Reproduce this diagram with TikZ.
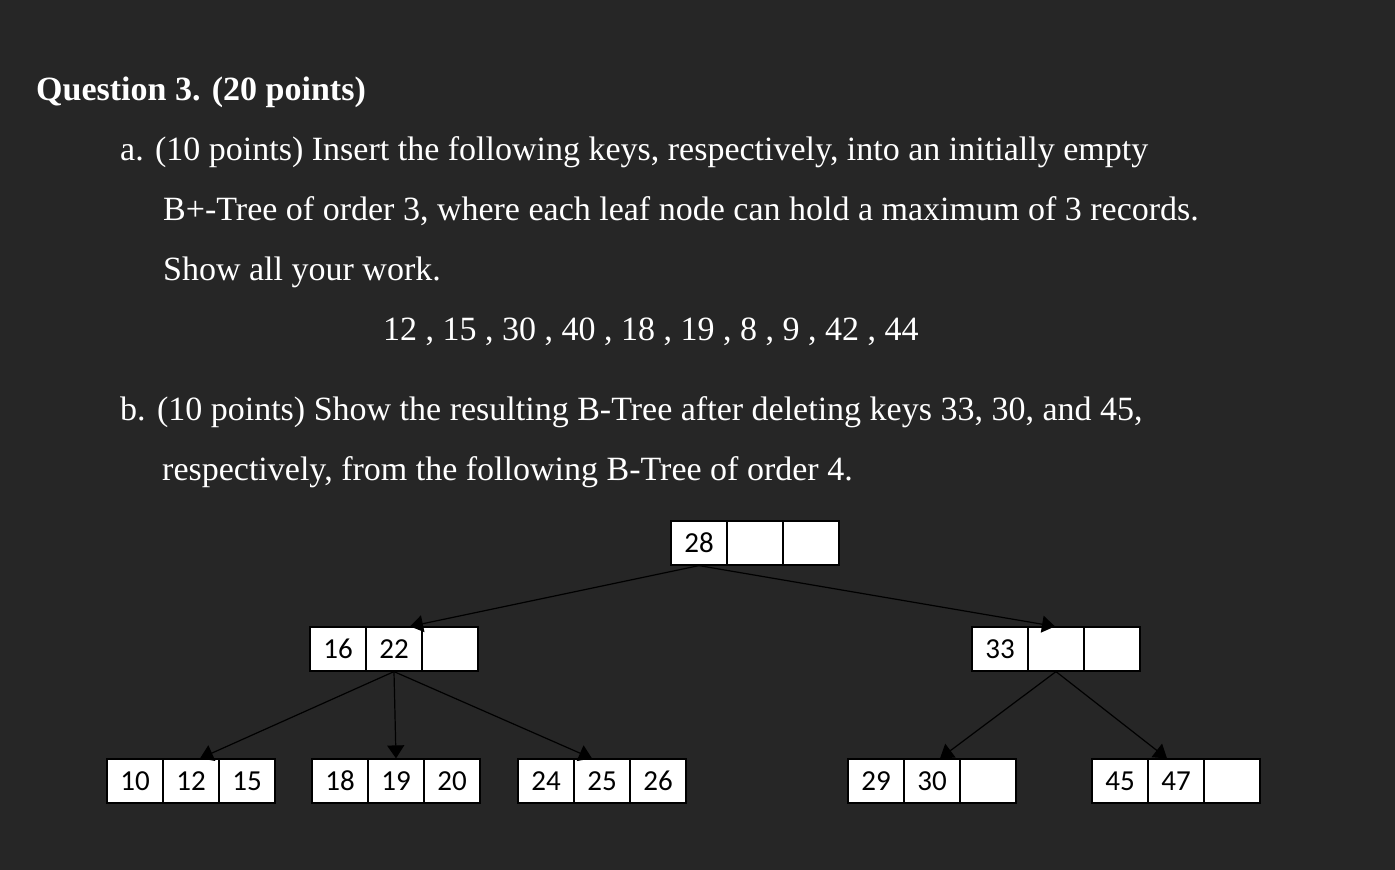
\documentclass[tikz,border=0pt]{standalone}
\usepackage{fontspec}
\setmainfont{Liberation Serif}
\newfontfamily\cellfont{Carlito}
\usetikzlibrary{arrows.meta}
\definecolor{bg}{HTML}{262626}
\begin{document}
\begin{tikzpicture}[x=1pt,y=-1pt,
  txt/.style={anchor=base west,inner sep=0,text=white,font=\fontsize{34}{40}\selectfont},
  cell/.style={draw=black,line width=1.2pt,fill=white,minimum width=56pt,minimum height=44pt,inner sep=0,font=\cellfont\fontsize{29}{32}\selectfont,text=black},
  link/.style={line width=1.2pt,-{Triangle[length=13pt,width=17pt]}}]
\fill[bg] (0,0) rectangle (1395,870);
\useasboundingbox (0,0) rectangle (1395,870);
\node[txt,font=\bfseries\fontsize{34}{40}\selectfont] (q) at (36,100) {Question 3. (20 points)};
\node[txt] (a1) at (120,160) {a. (10 points) Insert the following keys, respectively, into an initially empty};
\node[txt] (a2) at (163,220) {B+-Tree of order 3, where each leaf node can hold a maximum of 3 records.};
\node[txt] (a3) at (163,280) {Show all your work.};
\node[txt] (a4) at (383,340) {12 , 15 , 30 , 40 , 18 , 19 , 8 , 9 , 42 , 44};
\node[txt] (b1) at (120,420) {b. (10 points) Show the resulting B-Tree after deleting keys 33, 30, and 45,};
\node[txt] (b2t) at (162,480) {respectively, from the following B-Tree of order 4.};
% root
\node[cell] (r1) at (699,543) {28};
\node[cell] (r2) at (755,543) {};
\node[cell] (r3) at (811,543) {};
% internal
\node[cell] (l1) at (338,649) {16};
\node[cell] (l2) at (394,649) {22};
\node[cell] (l3) at (450,649) {};
\node[cell] (s1) at (1000,649) {33};
\node[cell] (s2) at (1056,649) {};
\node[cell] (s3) at (1112,649) {};
% leaves
\node[cell] (a1c) at (135,781) {10};
\node[cell] (a2c) at (191,781) {12};
\node[cell] (a3c) at (247,781) {15};
\node[cell] (b1c) at (340,781) {18};
\node[cell] (b2c) at (396,781) {19};
\node[cell] (b3c) at (452,781) {20};
\node[cell] (c1c) at (546,781) {24};
\node[cell] (c2c) at (602,781) {25};
\node[cell] (c3c) at (658,781) {26};
\node[cell] (d1c) at (876,781) {29};
\node[cell] (d2c) at (932,781) {30};
\node[cell] (d3c) at (988,781) {};
\node[cell] (e1c) at (1120,781) {45};
\node[cell] (e2c) at (1176,781) {47};
\node[cell] (e3c) at (1232,781) {};
% links
\draw[link] (r1.south) -- ([xshift=16pt]l2.north);
\draw[link] (r1.south) -- ([xshift=-1pt]s2.north);
\draw[link] (l2.south) -- ([xshift=9pt]a2c.north);
\draw[link] (l2.south) -- (b2c.north);
\draw[link] (l2.south) -- ([xshift=-10pt]c2c.north);
\draw[link] (s2.south) -- ([xshift=8pt]d2c.north);
\draw[link] (s2.south) -- ([xshift=-9pt]e2c.north);
\end{tikzpicture}
\end{document}
